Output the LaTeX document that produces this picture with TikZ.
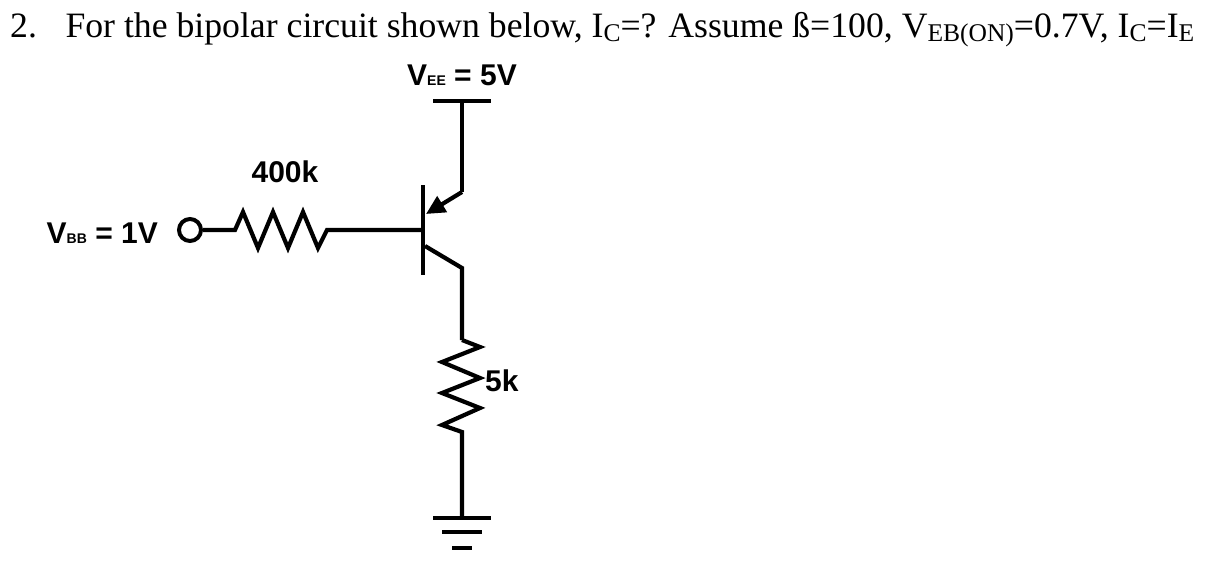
\documentclass[tikz,border=0pt]{standalone}
\usepackage{fontspec}
\setmainfont{Liberation Serif}
\newfontfamily\arial{Liberation Sans}
\usetikzlibrary{arrows.meta}
\newcommand{\sbs}[1]{\raisebox{-0.25ex}{\fontsize{25.5}{25.5}\selectfont #1}}
\begin{document}
\begin{tikzpicture}[x=1pt,y=-1pt,
  wire/.style={line width=4.2pt,line join=miter},
  lbl/.style={font=\arial\bfseries\fontsize{30}{30}\selectfont,inner sep=0pt}]
\useasboundingbox (0,0) rectangle (1210,563);
\node[anchor=west,inner sep=0pt,font=\fontsize{35.7}{35.7}\selectfont] (title) at (10,30)
 {2.\hspace{0.8em}For the bipolar circuit shown below, I\sbs{C}=? Assume ß=100, V\sbs{EB(ON)}=0.7V, I\sbs{C}=I\sbs{E}};
% supply
\coordinate (vee) at (462,101);
\draw[wire] (433,101) -- (491,101);
\draw[wire] (vee) -- (462,192) coordinate (e1);
\node[lbl] (veel) at (462,75) {V{\fontsize{14}{14}\selectfont EE} = 5V};
% transistor
\draw[wire] (423,185) -- (423,275);
\draw[wire,-{Triangle[length=19pt,width=18pt]}] (e1) -- (426,214);
\draw[wire] (425,246) -- (462,268) coordinate (c1) -- (462,340) coordinate (r2t);
% base
\node[circle,draw,line width=4pt,minimum size=22pt,inner sep=0pt] (in) at (190,230) {};
\draw[wire] (in.east) -- (235,230) -- (243,212) -- (258,248) -- (273,212) -- (288,248) -- (303,212) -- (318,248) -- (327,230) -- (423,230);
\node[lbl] (r1l) at (285,172) {400k};
\node[lbl,anchor=east] (vbbl) at (158,233) {V{\fontsize{14}{14}\selectfont BB} = 1V};
% 5k
\draw[wire] (r2t) -- (480,347) -- (442,362) -- (480,378) -- (442,393) -- (480,408) -- (442,425) -- (462,432) -- (462,518) coordinate (g);
\node[lbl,anchor=west] (r2l) at (485,381) {5k};
\draw[wire] (433,518) -- (491,518);
\draw[wire] (442,532) -- (482,532);
\draw[wire] (452,548) -- (472,548);
\end{tikzpicture}
\end{document}
